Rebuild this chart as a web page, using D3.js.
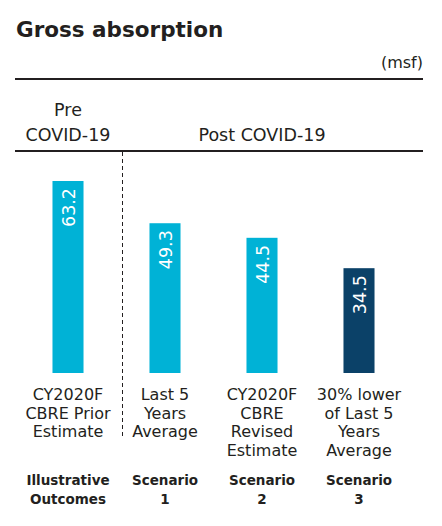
<!DOCTYPE html>
<html><head><meta charset="utf-8">
<script src="https://cdn.jsdelivr.net/npm/d3@7"></script>
<style>body{margin:0;background:#fff}text{font-family:"DejaVu Sans",sans-serif}</style>
</head><body><svg id="c" width="442" height="526"></svg>
<script>
const categories = ["CY2020F|CBRE Prior|Estimate","Last 5|Years|Average","CY2020F|CBRE|Revised|Estimate","30% lower|of Last 5|Years|Average"];
const values = [63.2, 49.3, 44.5, 34.5];
const scenarios = ["Illustrative|Outcomes","Scenario|1","Scenario|2","Scenario|3"];
const barColors = ["#00b2d6","#00b2d6","#00b2d6","#0b4168"];
const title = "Gross absorption";
const unit = "(msf)";
const groups = ["Pre|COVID-19","Post COVID-19"];

const svg = d3.select("#c");
const ink = "#231f20";
svg.append("text").attr("x",16).attr("y",37).attr("font-size",21.5).attr("font-weight",700).attr("fill",ink).text(title);
svg.append("text").attr("x",423).attr("y",68).attr("text-anchor","end").attr("font-size",16).attr("fill",ink).text(unit);
svg.append("line").attr("x1",15).attr("x2",423).attr("y1",79).attr("y2",79).attr("stroke",ink).attr("stroke-width",2);
svg.append("line").attr("x1",15).attr("x2",423).attr("y1",151).attr("y2",151).attr("stroke",ink).attr("stroke-width",2);

const x = d3.scaleBand().domain(d3.range(values.length)).range([19.5,407.5]).paddingInner(0.68).paddingOuter(0.34);
const base = 373;
const y = d3.scaleLinear().domain([0,63.2]).range([base, 181]);

const g0 = groups[0].split("|");
g0.forEach((t,i)=>svg.append("text").attr("x",x(0)+x.bandwidth()/2).attr("y",116+i*25).attr("text-anchor","middle").attr("font-size",17.5).attr("fill",ink).text(t));
svg.append("text").attr("x",(x(1)+x(3)+x.bandwidth())/2).attr("y",141).attr("text-anchor","middle").attr("font-size",17.5).attr("fill",ink).text(groups[1]);

svg.append("line").attr("x1",122.5).attr("x2",122.5).attr("y1",152).attr("y2",436).attr("stroke",ink).attr("stroke-width",1).attr("stroke-dasharray","4,3");

svg.selectAll("rect.bar").data(values).join("rect").attr("class","bar")
  .attr("x",(d,i)=>x(i)).attr("width",x.bandwidth())
  .attr("y",d=>y(d)).attr("height",d=>base-y(d))
  .attr("fill",(d,i)=>barColors[i]);

svg.selectAll("text.val").data(values).join("text").attr("class","val")
  .attr("transform",(d,i)=>`translate(${x(i)+x.bandwidth()/2+6.5},${y(d)+7}) rotate(-90)`)
  .attr("text-anchor","end").attr("font-size",17.5).attr("font-weight",500).attr("fill","#fff").text(d=>d.toFixed(1));

categories.forEach((c,i)=>{
  c.split("|").forEach((t,j)=>svg.append("text").attr("x",x(i)+x.bandwidth()/2).attr("y",400+j*18.5)
    .attr("text-anchor","middle").attr("font-size",16).attr("fill",ink).text(t));
});
scenarios.forEach((c,i)=>{
  c.split("|").forEach((t,j)=>svg.append("text").attr("x",x(i)+x.bandwidth()/2).attr("y",485+j*19)
    .attr("text-anchor","middle").attr("font-size",13.5).attr("font-weight",700).attr("fill",ink).text(t));
});
</script></body></html>
